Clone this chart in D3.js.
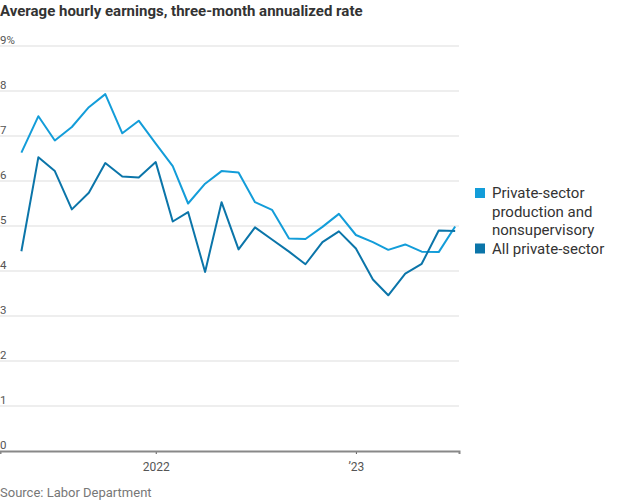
<!DOCTYPE html>
<html>
<head>
<meta charset="utf-8">
<script src="https://cdn.jsdelivr.net/npm/d3@7"></script>
<style>
  body { margin: 0; background: #fff; }
  text { font-family: Roboto, sans-serif; }
</style>
</head>
<body>
<script>
// monthly data, May 2021 - July 2023
const startMonth = new Date(2021, 4, 1);
const production = [6.63, 7.44, 6.90, 7.20, 7.64, 7.93, 7.06, 7.34, 6.83, 6.33,
  5.50, 5.94, 6.22, 6.19, 5.53, 5.36, 4.72, 4.71, 4.98, 5.27,
  4.80, 4.64, 4.47, 4.59, 4.43, 4.42, 4.99];
const allPrivate = [4.44, 6.53, 6.22, 5.37, 5.74, 6.40, 6.10, 6.08, 6.42, 5.10,
  5.31, 3.98, 5.53, 4.48, 4.97, 4.70, 4.43, 4.15, 4.64, 4.88,
  4.50, 3.81, 3.46, 3.94, 4.16, 4.90, 4.89];
const legendLines = [['Private-sector', 'production and', 'nonsupervisory'], ['All private-sector']];
const colors = ['#139dd9', '#0b75a9'];
const yTicks = [0, 1, 2, 3, 4, 5, 6, 7, 8, 9];
const xTicks = [new Date(2022, 0, 1), new Date(2023, 0, 1)];
const xTickLabels = ['2022', '\u201923'];

const width = 620, height = 500;
const margin = { top: 46, bottom: 49, left: 0, right: 161 };

const months = production.map((d, i) => d3.timeMonth.offset(startMonth, i));

let svg = d3.select('body').append('svg')
  .attr('width', width).attr('height', height);

svg.append('text')
  .attr('x', 0).attr('y', 16)
  .style('font-size', '15px').style('font-weight', 'bold')
  .style('fill', '#333')
  .text('Average hourly earnings, three-month annualized rate');

const xscale = d3.scaleTime()
  .domain([new Date(2021, 2, 23), new Date(2023, 6, 8)])
  .range([margin.left, width - margin.right]);

const yscale = d3.scaleLinear()
  .domain([0, 9])
  .range([height - margin.bottom, margin.top]);

// gridlines + labels
const grid = svg.append('g');
grid.selectAll('line').data(yTicks.filter(d => d > 0)).enter().append('line')
  .attr('x1', margin.left).attr('x2', width - margin.right)
  .attr('y1', d => yscale(d)).attr('y2', d => yscale(d))
  .style('stroke', '#e9e9e9').style('stroke-width', 1.5);
grid.selectAll('text').data(yTicks).enter().append('text')
  .attr('x', 0).attr('y', d => yscale(d) - 2.5)
  .style('font-size', '11.5px').style('fill', '#555')
  .text(d => d === 9 ? d + '%' : d);

// x axis
const xaxis = svg.append('g')
  .attr('transform', `translate(0, ${height - margin.bottom})`)
  .call(d3.axisBottom(xscale).tickValues(xTicks).tickSize(3).tickPadding(8)
    .tickFormat((d, i) => xTickLabels[i]));
xaxis.select('.domain').style('stroke', '#888').style('stroke-width', 2);
xaxis.selectAll('.tick line').style('stroke', '#555');
xaxis.selectAll('.tick text')
  .style('font-size', '12px').style('fill', '#555')
  .style('font-family', 'Roboto, sans-serif');

// lines
const line = d3.line()
  .x((d, i) => xscale(months[i]))
  .y(d => yscale(d));

[production, allPrivate].forEach((s, k) => {
  svg.append('path')
    .datum(s)
    .attr('d', line)
    .style('fill', 'none')
    .style('stroke', colors[k])
    .style('stroke-width', 2)
    .style('stroke-linejoin', 'round');
});
svg.select('path').raise();

// legend
const legend = svg.append('g').attr('transform', 'translate(475, 0)');
let ly = 188;
legendLines.forEach((lines, k) => {
  legend.append('rect')
    .attr('x', 0).attr('y', ly)
    .attr('width', 10).attr('height', 10)
    .style('fill', colors[k]);
  lines.forEach((t, j) => {
    legend.append('text')
      .attr('x', 17).attr('y', ly + 10 + j * 18.5)
      .style('font-size', '15px').style('fill', '#333')
      .text(t);
  });
  ly += lines.length * 18.5;
});

svg.append('text')
  .attr('x', 0).attr('y', 497)
  .style('font-size', '13px').style('fill', '#777')
  .text('Source: Labor Department');
</script>
</body>
</html>
